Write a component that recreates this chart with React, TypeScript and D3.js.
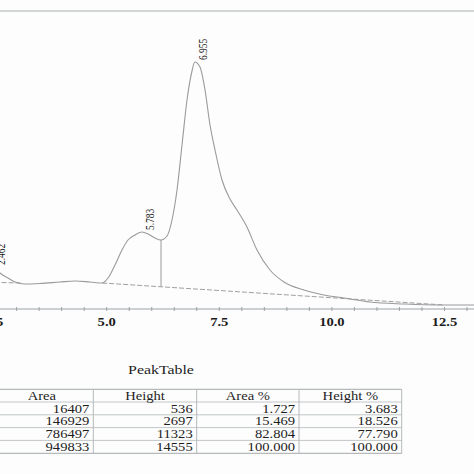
import React from 'react';
import * as d3 from 'd3';

// chromatogram trace (time in min, signal in uV)
const times = [
  2.3, 2.462, 2.55, 2.631, 2.809, 2.964, 3.186, 3.519, 3.963, 4.296, 4.629, 4.896,
  5.029, 5.184, 5.34, 5.473, 5.628, 5.783, 5.917, 6.072, 6.206, 6.339, 6.45,
  6.561, 6.672, 6.783, 6.894, 6.955, 7.071, 7.183, 7.294, 7.405, 7.56, 7.738,
  7.892, 8.114, 8.337, 8.625, 8.936, 9.38, 9.824, 10.268, 10.845, 11.6, 12.332,
  13.2,
];
const signal = [
  1600, 2100, 2000, 1800, 1550, 1350, 1250, 1275, 1350, 1400, 1350, 1300,
  1550, 2200, 2950, 3450, 3700, 3850, 3750, 3550, 3450, 3650, 4450,
  5950, 8200, 10450, 11900, 12350, 12100, 10950, 9200, 7950, 6450, 5500,
  4950, 4100, 2950, 1950, 1350, 950, 700, 550, 350, 250, 200,
  200,
];

// integration baselines
const baseT1 = [2.2, 3.1];
const baseV1 = [1350, 1300];
const baseT2 = [4.9, 12.5];
const baseV2 = [1300, 200];
const dropTime = 6.206;

const peakTimes = [2.462, 5.783, 6.955];
const peakLabels = ['2.462', '5.783', '6.955'];

const xTicks = [2.5, 5.0, 7.5, 10.0, 12.5];

const tableTitle = 'PeakTable';
const headers = ['Area', 'Height', 'Area %', 'Height %'];
const areaCol = ['16407', '146929', '786497', '949833'];
const heightCol = ['536', '2697', '11323', '14555'];
const areaPctCol = ['1.727', '15.469', '82.804', '100.000'];
const heightPctCol = ['3.683', '18.526', '77.790', '100.000'];

const W = 474;
const H = 474;
const SX = 1.27; // the scan is stretched sideways, so is the type

const x = d3.scaleLinear().domain([5, 12.5]).range([106.7, 444.5]);
const y = d3.scaleLinear().domain([0, 14900]).range([309, 11]);

const trace = times.map((t, i) => [t, signal[i]] as [number, number]);

const line = d3
  .line<[number, number]>()
  .x((d) => x(d[0]))
  .y((d) => y(d[1]))
  .curve(d3.curveMonotoneX);

const baseAt = (t: number) =>
  d3.scaleLinear().domain(baseT2).range(baseV2)(t);

const valueAt = (t: number) => signal[d3.minIndex(times, (s) => Math.abs(s - t))];

const font = '"Liberation Serif", "DejaVu Serif", serif';

const SText = ({
  px,
  py,
  size,
  anchor = 'start',
  rotate = 0,
  weight = 'normal',
  children,
}: {
  px: number;
  py: number;
  size: number;
  anchor?: string;
  rotate?: number;
  weight?: string;
  children: React.ReactNode;
}) => (
  <text
    transform={`translate(${px},${py}) scale(${SX},1) rotate(${rotate})`}
    fontSize={size}
    fontFamily={font}
    fontWeight={weight}
    textAnchor={anchor}
    fill="#1e1e1e"
  >
    {children}
  </text>
);

export default function App() {
  const minor = d3.range(2.5, 13.01, 0.5);
  const colEdges = [-9.7, 93.3, 196.7, 299, 401.7];
  const rowEdges = [389.3, 402, 414.8, 427.6, 440.4, 453.3];
  const columns = [areaCol, heightCol, areaPctCol, heightPctCol];

  return (
    <div style={{ position: 'fixed', left: 0, top: 0 }}>
      <svg width={W} height={H} style={{ display: 'block', background: '#fdfdfd' }}>
        {/* frame top */}
        <line x1={0} x2={W} y1={y(14900)} y2={y(14900)} stroke="#a9aeb0" strokeWidth={1} />

        {/* x axis */}
        <line x1={0} x2={W} y1={y(0)} y2={y(0)} stroke="#9aa3a6" strokeWidth={1} />
        {minor.map((t) => (
          <line
            key={t}
            x1={x(t)}
            x2={x(t)}
            y1={y(0) - 2}
            y2={y(0) + 2}
            stroke="#8a9296"
            strokeWidth={0.8}
          />
        ))}
        {xTicks.map((t) => (
          <SText key={t} px={x(t)} py={y(0) + 17} size={11.5} anchor="middle" weight="bold">
            {t.toFixed(1)}
          </SText>
        ))}

        {/* baselines */}
        <line
          x1={x(baseT1[0])}
          x2={x(baseT1[1])}
          y1={y(baseV1[0])}
          y2={y(baseV1[1])}
          stroke="#a0a0a0"
          strokeWidth={1}
          strokeDasharray="5,2"
        />
        <line
          x1={x(baseT2[0])}
          x2={x(baseT2[1])}
          y1={y(baseV2[0])}
          y2={y(baseV2[1])}
          stroke="#a0a0a0"
          strokeWidth={1}
          strokeDasharray="5,2"
        />
        <line
          x1={x(dropTime)}
          x2={x(dropTime)}
          y1={y(valueAt(dropTime))}
          y2={y(baseAt(dropTime))}
          stroke="#999"
          strokeWidth={1}
        />

        {/* trace */}
        <path d={line(trace) ?? ''} fill="none" stroke="#9a9a9a" strokeWidth={1.1} />

        {/* peak labels */}
        {peakTimes.map((t, i) => (
          <SText
            key={t}
            px={x(t) + 12.5}
            py={y(valueAt(t)) - 2}
            size={9.5}
            rotate={-90}
          >
            {peakLabels[i]}
          </SText>
        ))}

        {/* peak table */}
        <SText px={161} py={374} size={12.5} anchor="middle">
          {tableTitle}
        </SText>
        {rowEdges.map((r, i) => (
          <line
            key={r}
            x1={0}
            x2={colEdges[4]}
            y1={r}
            y2={r}
            stroke={i === 0 || i === rowEdges.length - 1 ? '#a4a8aa' : '#c2c6c8'}
            strokeWidth={1}
          />
        ))}
        {colEdges.slice(1).map((c) => (
          <line
            key={c}
            x1={c}
            x2={c}
            y1={rowEdges[0]}
            y2={rowEdges[rowEdges.length - 1]}
            stroke="#b4b8ba"
            strokeWidth={1}
          />
        ))}
        {headers.map((h, i) => (
          <SText
            key={h}
            px={(colEdges[i] + colEdges[i + 1]) / 2}
            py={rowEdges[0] + 10.5}
            size={11.5}
            anchor="middle"
          >
            {h}
          </SText>
        ))}
        {columns.map((col, ci) =>
          col.map((v, ri) => (
            <SText
              key={`${ci}-${ri}`}
              px={colEdges[ci + 1] - 4}
              py={rowEdges[ri + 1] + 10.5}
              size={11.5}
              anchor="end"
            >
              {v}
            </SText>
          ))
        )}
      </svg>
    </div>
  );
}
